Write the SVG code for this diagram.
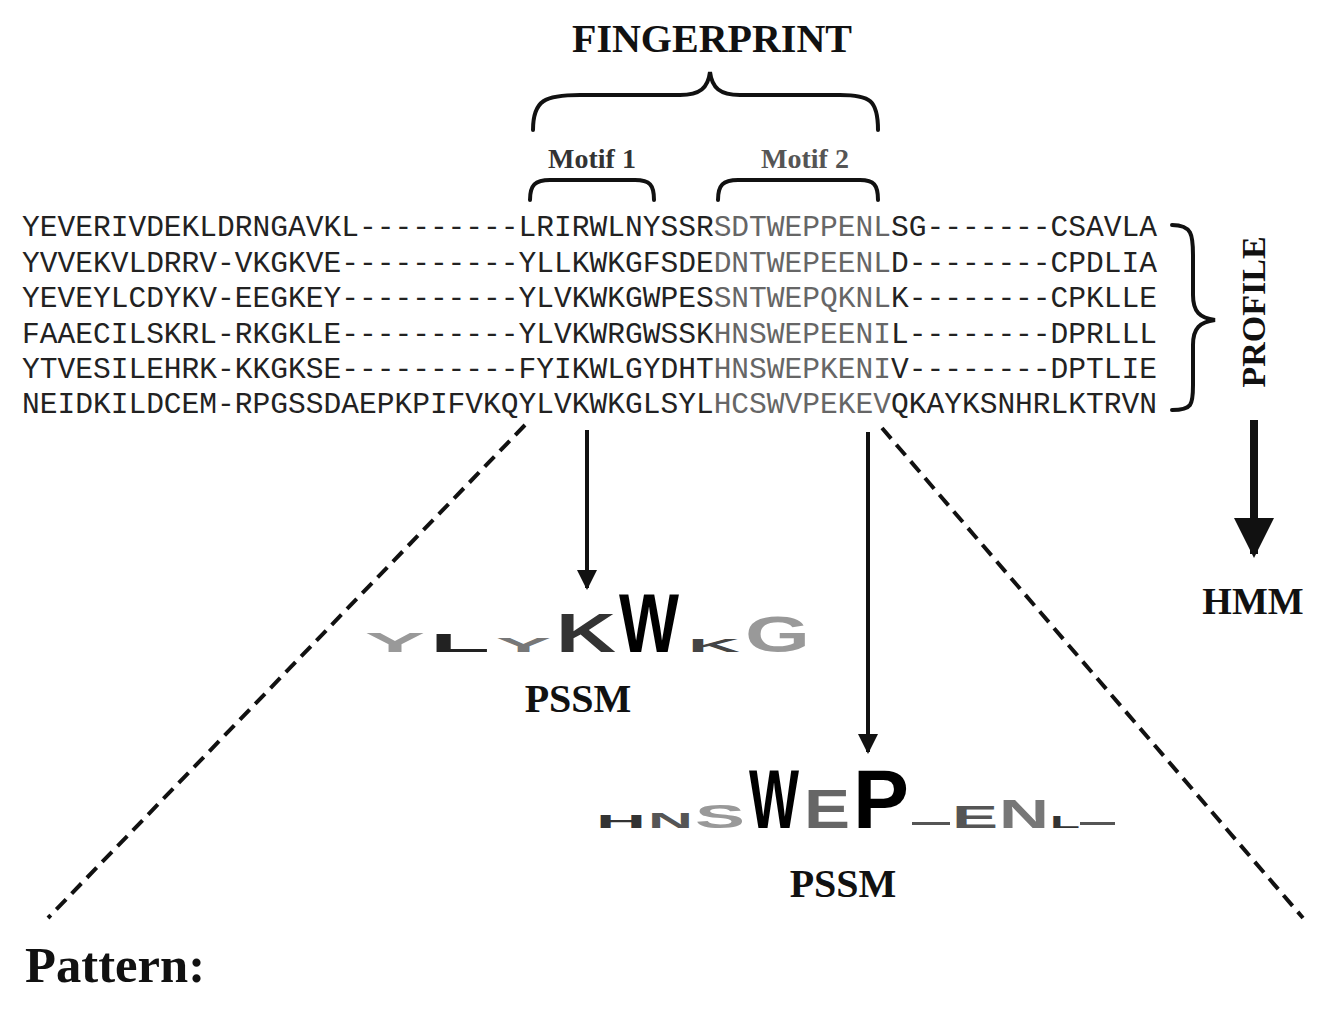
<svg xmlns="http://www.w3.org/2000/svg" width="1336" height="1012" viewBox="0 0 1336 1012">
<style>
.t{font-family:"Liberation Serif",serif;font-weight:bold;fill:#111}
.seq{font-family:"Liberation Mono","Courier New",monospace;font-size:29.5px;fill:#222}
.g{fill:#666}
.br{fill:none;stroke:#111;stroke-width:4;stroke-linecap:round}
.ds{fill:none;stroke:#111;stroke-width:4;stroke-dasharray:14 8}
.ln{stroke:#111;stroke-width:4}
.lg{font-family:"Liberation Sans",sans-serif;font-weight:bold}
</style>
<defs>
<marker id="ah" viewBox="0 0 10 10" refX="9" refY="5" markerWidth="5" markerHeight="5" orient="auto"><path d="M0,0 L10,5 L0,10 z" fill="#111"/></marker>
</defs>
<rect width="1336" height="1012" fill="#fff"/>
<g id="fingerprint">
<text class="t" x="712" y="52" font-size="40" text-anchor="middle">FINGERPRINT</text>
<path class="br" d="M533,130 C533,100 545,95 580,95 L680,95 C700,95 708,88 710,72 C712,88 720,95 740,95 L840,95 C870,95 878,100 878,130"/>
</g>
<g id="motif1">
<text class="t" x="592" y="168" font-size="28" text-anchor="middle" style="fill:#333">Motif 1</text>
<path class="br" d="M530,200 C530,185 535,180 550,180 L635,180 C650,180 654,185 654,200"/>
</g>
<g id="motif2">
<text class="t" x="805" y="168" font-size="28" text-anchor="middle" style="fill:#555">Motif 2</text>
<path class="br" d="M718,200 C718,185 723,180 738,180 L860,180 C874,180 878,185 878,200"/>
</g>
<g id="alignment" class="seq">
<text x="22" y="236" textLength="1135" lengthAdjust="spacingAndGlyphs">YEVERIVDEKLDRNGAVKL---------LRIRWLNYSSR<tspan class="g">SDTWEPPENL</tspan>SG-------CSAVLA</text>
<text x="22" y="272" textLength="1135" lengthAdjust="spacingAndGlyphs">YVVEKVLDRRV-VKGKVE----------YLLKWKGFSDE<tspan class="g">DNTWEPEENL</tspan>D--------CPDLIA</text>
<text x="22" y="307" textLength="1135" lengthAdjust="spacingAndGlyphs">YEVEYLCDYKV-EEGKEY----------YLVKWKGWPES<tspan class="g">SNTWEPQKNL</tspan>K--------CPKLLE</text>
<text x="22" y="343" textLength="1135" lengthAdjust="spacingAndGlyphs">FAAECILSKRL-RKGKLE----------YLVKWRGWSSK<tspan class="g">HNSWEPEENI</tspan>L--------DPRLLL</text>
<text x="22" y="378" textLength="1135" lengthAdjust="spacingAndGlyphs">YTVESILEHRK-KKGKSE----------FYIKWLGYDHT<tspan class="g">HNSWEPKENI</tspan>V--------DPTLIE</text>
<text x="22" y="413" textLength="1135" lengthAdjust="spacingAndGlyphs">NEIDKILDCEM-RPGSSDAEPKPIFVKQYLVKWKGLSYL<tspan class="g">HCSWVPEKEV</tspan>QKAYKSNHRLKTRVN</text>
</g>
<g id="profile">
<path class="br" d="M1172,225 C1192,225 1193,235 1193,255 L1193,295 C1193,312 1200,318 1215,320 C1200,322 1193,328 1193,345 L1193,385 C1193,405 1192,410 1172,410"/>
<text class="t" x="0" y="0" font-size="34" text-anchor="middle" transform="translate(1265,312) rotate(-90)">PROFILE</text>
</g>
<g id="hmm">
<text class="t" x="1253" y="614" font-size="38" text-anchor="middle">HMM</text>
</g>
<g id="pssm1">
<text class="lg" x="365" y="652" font-size="28" textLength="60" lengthAdjust="spacingAndGlyphs" fill="#999">Y</text>
<text class="lg" x="430" y="652" font-size="26" textLength="60" lengthAdjust="spacingAndGlyphs" fill="#222">L</text>
<text class="lg" x="496" y="652" font-size="20" textLength="55" lengthAdjust="spacingAndGlyphs" fill="#777">Y</text>
<text class="lg" x="556" y="652" font-size="56" textLength="60" lengthAdjust="spacingAndGlyphs" fill="#333">K</text>
<text class="lg" x="619" y="652" font-size="84" textLength="60" lengthAdjust="spacingAndGlyphs" fill="#000">W</text>
<text class="lg" x="688" y="652" font-size="18" textLength="52" lengthAdjust="spacingAndGlyphs" fill="#444">K</text>
<text class="lg" x="745" y="652" font-size="50" textLength="65" lengthAdjust="spacingAndGlyphs" fill="#999">G</text>
<text class="t" x="578" y="712" font-size="40" text-anchor="middle">PSSM</text>
</g>
<g id="pssm2">
<text class="lg" x="596" y="828" font-size="18" textLength="50" lengthAdjust="spacingAndGlyphs" fill="#333">H</text>
<text class="lg" x="648" y="828" font-size="22" textLength="45" lengthAdjust="spacingAndGlyphs" fill="#555">N</text>
<text class="lg" x="695" y="828" font-size="34" textLength="50" lengthAdjust="spacingAndGlyphs" fill="#999">S</text>
<text class="lg" x="749" y="828" font-size="84" textLength="50" lengthAdjust="spacingAndGlyphs" fill="#000">W</text>
<text class="lg" x="804" y="828" font-size="56" textLength="46" lengthAdjust="spacingAndGlyphs" fill="#666">E</text>
<text class="lg" x="853" y="828" font-size="84" textLength="56" lengthAdjust="spacingAndGlyphs" fill="#000">P</text>
<rect x="912" y="822" width="38" height="3" fill="#555"/>
<text class="lg" x="952" y="828" font-size="32" textLength="46" lengthAdjust="spacingAndGlyphs" fill="#555">E</text>
<text class="lg" x="999" y="828" font-size="40" textLength="50" lengthAdjust="spacingAndGlyphs" fill="#777">N</text>
<text class="lg" x="1050" y="828" font-size="16" textLength="30" lengthAdjust="spacingAndGlyphs" fill="#333">L</text>
<rect x="1080" y="822" width="35" height="3" fill="#555"/>
<text class="t" x="843" y="897" font-size="40" text-anchor="middle">PSSM</text>
</g>
<g id="pattern">
<text class="t" x="25" y="982" font-size="50" textLength="180" lengthAdjust="spacingAndGlyphs">Pattern:</text>
</g>
<g id="connectors">
<line class="ds" x1="525" y1="425" x2="48" y2="918"/>
<line class="ds" x1="882" y1="428" x2="1303" y2="918"/>
<line class="ln" x1="587" y1="430" x2="587" y2="588" marker-end="url(#ah)"/>
<line class="ln" x1="868" y1="432" x2="868" y2="752" marker-end="url(#ah)"/>
<line x1="1254" y1="420" x2="1254" y2="554" stroke="#111" stroke-width="8" marker-end="url(#ah)"/>
</g>
</svg>
